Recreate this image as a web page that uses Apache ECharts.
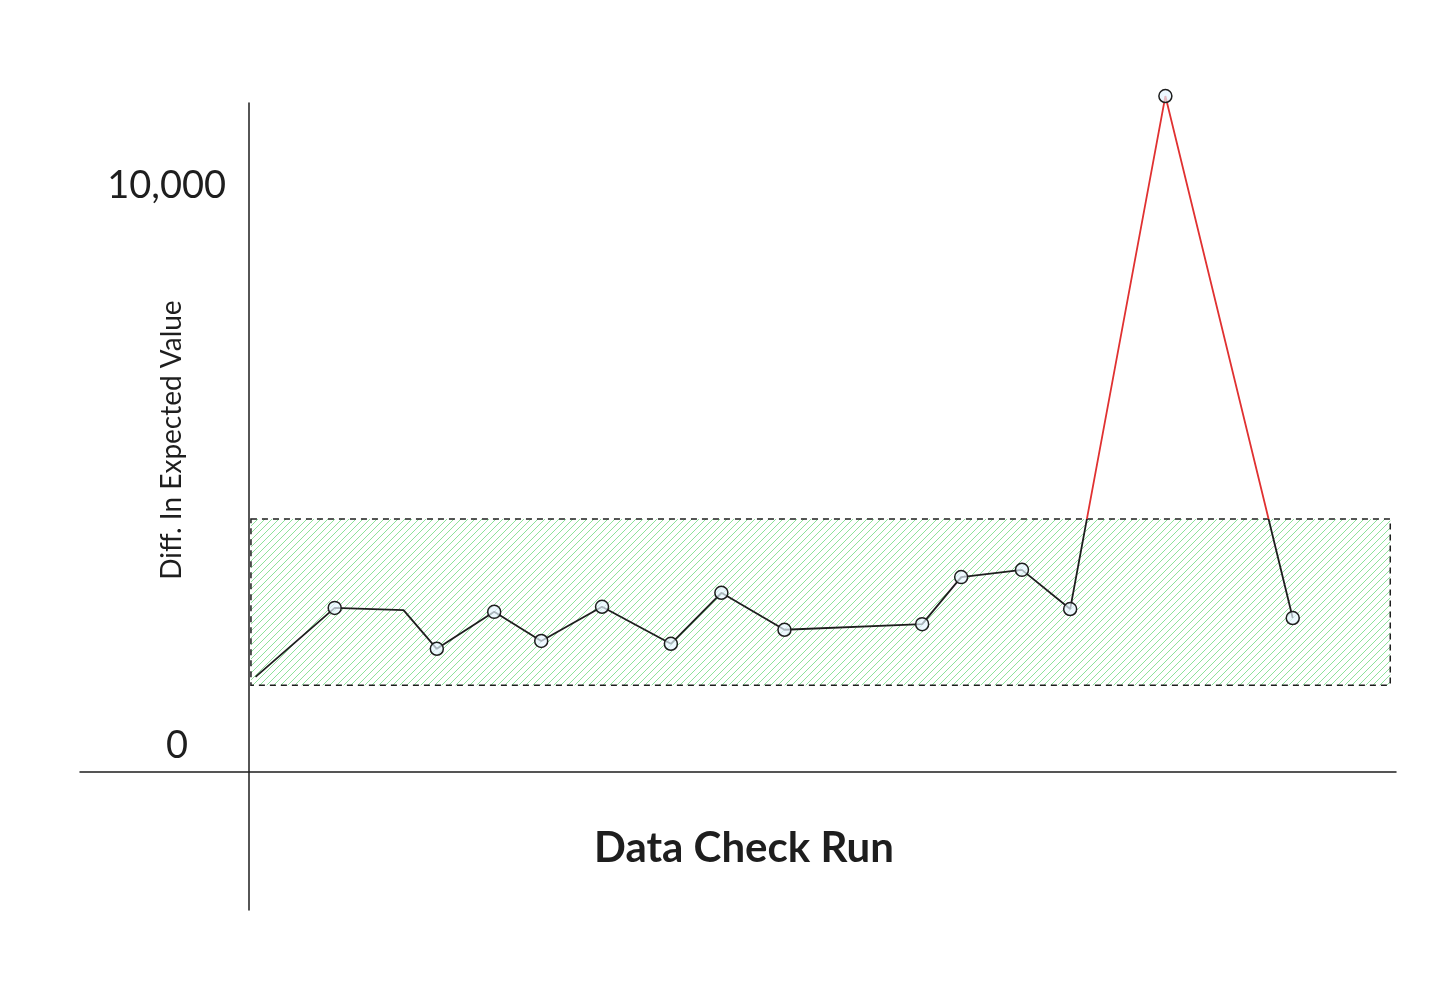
<!DOCTYPE html>
<html>
<head>
<meta charset="utf-8">
<title>Data Check Run</title>
<script src="https://cdn.jsdelivr.net/npm/echarts@6/dist/echarts.min.js"></script>
<style>
  html, body { margin: 0; padding: 0; background: #fff; }
  #chart { width: 1456px; height: 989px; }
</style>
</head>
<body>
<div id="chart"></div>
<script>
// run position along the x axis (irregular spacing)
const runs = [0.6, 7.5, 13.5, 16.4, 21.4, 25.5, 30.8, 36.8, 41.2, 46.7, 58.7, 62.1, 67.4, 71.6, 79.9, 91.0]
// diff in expected value per run
const diffs = [1700, 2930, 2890, 2200, 2860, 2340, 2950, 2290, 3200, 2540, 2640, 3480, 3610, 2910, 12070, 2750]
// which runs are drawn with a circle
const marked = [false, true, false, true, true, true, true, true, true, true, true, true, true, true, true, true]
// expected band: [from run, to run] and [low, high]
const bandRuns = [0.2, 99.5]
const bandRange = [1550, 4520]
const yTicks = [0, 10000]

const ink = '#1e1e1e'
const red = '#e03131'
const font = 'Lato'

// diagonal hatch tile for the band
const hatch = document.createElement('canvas')
hatch.width = 7
hatch.height = 7
const hctx = hatch.getContext('2d')
hctx.fillStyle = '#ffffff'
hctx.fillRect(0, 0, 7, 7)
hctx.strokeStyle = '#8ee29b'
hctx.lineWidth = 1
hctx.beginPath()
hctx.moveTo(0, 7); hctx.lineTo(7, 0)
hctx.moveTo(-3.5, 3.5); hctx.lineTo(3.5, -3.5)
hctx.moveTo(3.5, 10.5); hctx.lineTo(10.5, 3.5)
hctx.stroke()

const lineData = runs.map((r, i) => [r, diffs[i]])
const dotData = lineData.filter((d, i) => marked[i])

const chart = echarts.init(document.getElementById('chart'))
chart.setOption({
  animation: false,
  backgroundColor: '#fff',
  grid: { left: 80, right: 60, top: 103, bottom: 79, outerBoundsMode: 'none' },
  xAxis: {
    type: 'value',
    min: -14.7,
    max: 100,
    axisLine: { onZero: true, lineStyle: { color: ink, width: 1.5 } },
    axisTick: { show: false },
    axisLabel: { show: false },
    splitLine: { show: false }
  },
  yAxis: {
    type: 'value',
    min: -2464,
    max: 11946,
    axisLine: { show: true, onZero: true, lineStyle: { color: ink, width: 1.5 } },
    axisTick: { show: false },
    splitLine: { show: false },
    axisLabel: {
      customValues: yTicks,
      margin: -146,
      color: ink,
      fontFamily: font,
      fontSize: 38,
      padding: [0, 0, 52, 0],
      formatter: v => v === 0 ? '{z|0}' : '{n|' + v.toLocaleString('en-US') + '}',
      rich: {
        n: { fontFamily: font, fontSize: 38, color: ink },
        z: { fontFamily: font, fontSize: 38, color: ink, padding: [0, 38, 0, 0] }
      }
    }
  },
  visualMap: {
    type: 'piecewise',
    show: false,
    seriesIndex: 1,
    dimension: 1,
    pieces: [
      { lte: bandRange[1], color: ink },
      { gt: bandRange[1], lte: 100000, color: red }
    ],
    outOfRange: { color: red }
  },
  graphic: [
    {
      type: 'text',
      x: 172,
      y: 440,
      rotation: Math.PI / 2,
      style: {
        text: 'Diff. In Expected Value',
        font: '28px ' + font,
        fill: ink,
        align: 'center',
        verticalAlign: 'middle'
      }
    },
    {
      type: 'text',
      x: 744,
      y: 848,
      style: {
        text: 'Data Check Run',
        font: 'bold 42px ' + font,
        fill: ink,
        align: 'center',
        verticalAlign: 'middle'
      }
    }
  ],
  series: [
    {
      // expected band
      type: 'custom',
      z: 1,
      silent: true,
      encode: { x: [0, 1], y: [2, 3] },
      data: [[bandRuns[0], bandRuns[1], bandRange[0], bandRange[1]]],
      renderItem: (params, api) => {
        const lo = api.coord([api.value(0), api.value(2)])
        const hi = api.coord([api.value(1), api.value(3)])
        return {
          type: 'rect',
          shape: { x: lo[0], y: hi[1], width: hi[0] - lo[0], height: lo[1] - hi[1] },
          style: {
            fill: { image: hatch, repeat: 'repeat' },
            stroke: ink,
            lineWidth: 1.5,
            lineDash: [6, 5]
          }
        }
      }
    },
    {
      type: 'line',
      data: lineData,
      showSymbol: false,
      clip: false,
      z: 3,
      lineStyle: { width: 1.8 }
    },
    {
      type: 'scatter',
      data: dotData,
      symbol: 'circle',
      symbolSize: 13,
      clip: false,
      z: 4,
      itemStyle: { color: 'rgba(231,245,255,0.7)', borderColor: ink, borderWidth: 1.5, opacity: 1 }
    }
  ]
})

window.onresize = function () {
  chart.resize()
}
</script>
</body>
</html>
